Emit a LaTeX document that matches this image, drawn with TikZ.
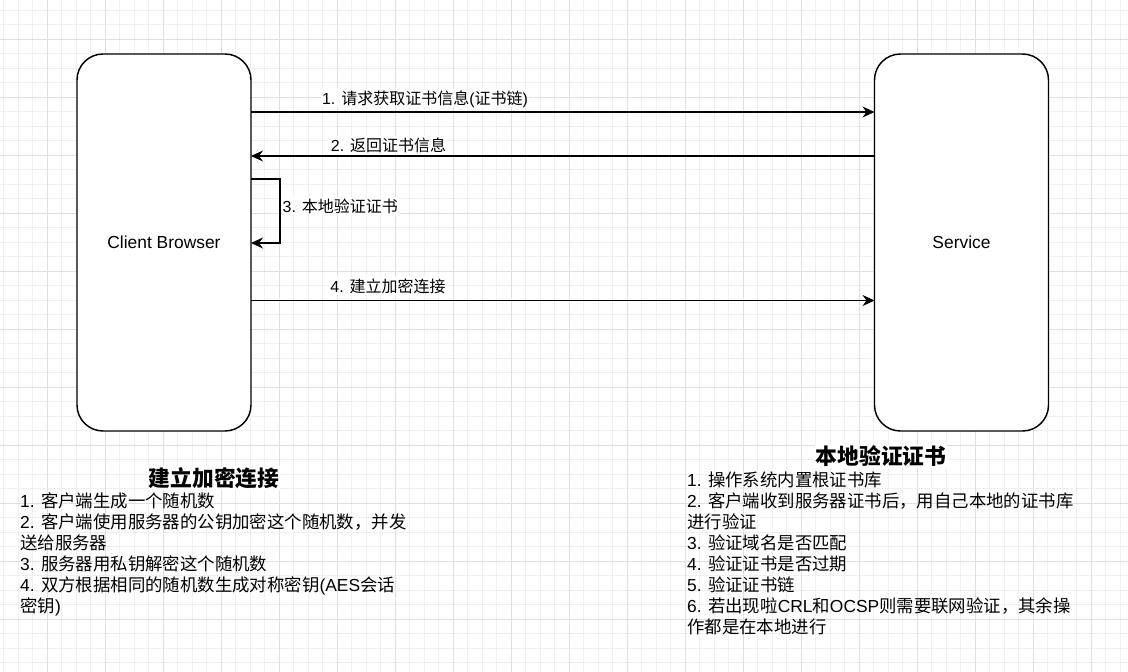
\documentclass[tikz,border=0pt]{standalone}
\usepackage{fontspec}
\setmainfont{Noto Sans CJK SC}
\newfontfamily\latf{Liberation Sans}
\newcommand\Lp[1]{{\latf #1}}
\usetikzlibrary{arrows.meta}
\definecolor{gminor}{HTML}{F0F0F0}
\definecolor{gmajor}{HTML}{E0E0E0}
\begin{document}
\begin{tikzpicture}[x=1pt,y=-1pt,
 box/.style={draw=black, line width=1.45pt, rounded corners=26pt, minimum width=174pt, minimum height=377pt, inner sep=0pt, outer sep=0pt, fill=white, font=\latf\fontsize{17.4}{21}\selectfont},
 arr/.style={line width=1.45pt, line join=miter, -{Stealth[length=12pt,width=11pt,inset=4pt]}},
 elabel/.style={fill=white, inner sep=1pt, text height=14pt, text depth=2pt, font=\fontsize{16}{19}\selectfont},
 ttl/.style={fill=white, inner sep=1pt, font=\bfseries\fontsize{21.75}{26}\selectfont},
 item/.style={anchor=west, inner sep=0pt, text height=15.3pt, text depth=2.1pt, font=\fontsize{17.4}{21}\selectfont}]
\useasboundingbox (0,0) rectangle (1128,672);
\fill[white] (0,0) rectangle (1128,672);
% grid
\foreach \i in {0,...,78} \draw[gminor, line width=1pt] ({3.5+14.5*\i},0) -- ++(0,672);
\foreach \i in {0,...,46} \draw[gminor, line width=1pt] (0,{10.3+14.5*\i}) -- ++(1128,0);
\foreach \i in {0,...,19} \draw[gmajor, line width=1pt] ({47+58*\i},0) -- ++(0,672);
\foreach \i in {0,...,11} \draw[gmajor, line width=1pt] (0,{39.3+58*\i}) -- ++(1128,0);
% boxes
\node[box] (client) at (164,242.5) {Client Browser};
\node[box] (service) at (961.5,242.5) {Service};
% connectors
\draw[arr] (client.east |- 0,112) -- (service.west |- 0,112);
\draw[arr] (service.west |- 0,156) -- (client.east |- 0,156);
\draw[arr] (client.east |- 0,179) -- (280,179) -- (280,243) -- (client.east |- 0,243);
\draw[arr] (client.east |- 0,300.5) -- (service.west |- 0,300.5);
% edge labels
\node[elabel] (e1) at (425,98) {\Lp{1. }请求获取证书信息\Lp{(}证书链\Lp{)}};
\node[elabel] (e2) at (388.5,145) {\Lp{2. }返回证书信息};
\node[elabel, anchor=west] (e3) at (281.5,206) {\Lp{3. }本地验证证书};
\node[elabel] (e4) at (388,286) {\Lp{4. }建立加密连接};
% left text
\node[ttl] (lt) at (214,478) {建立加密连接};
\node[item] (l1) at (20,500.5) {\Lp{1. }客户端生成一个随机数};
\node[item] (l2) at (20,521.5) {\Lp{2. }客户端使用服务器的公钥加密这个随机数，并发};
\node[item] (l3) at (20,542.5) {送给服务器};
\node[item] (l4) at (20,563.5) {\Lp{3. }服务器用私钥解密这个随机数};
\node[item] (l5) at (20,584.5) {\Lp{4. }双方根据相同的随机数生成对称密钥\Lp{(AES}会话};
\node[item] (l6) at (20,605.5) {密钥\Lp{)}};
% right text
\node[ttl] (rt) at (881,456.5) {本地验证证书};
\node[item] (r1) at (687,480) {\Lp{1. }操作系统内置根证书库};
\node[item] (r2) at (687,501) {\Lp{2. }客户端收到服务器证书后，用自己本地的证书库};
\node[item] (r3) at (687,522) {进行验证};
\node[item] (r4) at (687,543) {\Lp{3. }验证域名是否匹配};
\node[item] (r5) at (687,564) {\Lp{4. }验证证书是否过期};
\node[item] (r6) at (687,585) {\Lp{5. }验证证书链};
\node[item] (r7) at (687,606) {\Lp{6. }若出现啦\Lp{CRL}和\Lp{OCSP}则需要联网验证，其余操};
\node[item] (r8) at (687,627) {作都是在本地进行};
\end{tikzpicture}
\end{document}
